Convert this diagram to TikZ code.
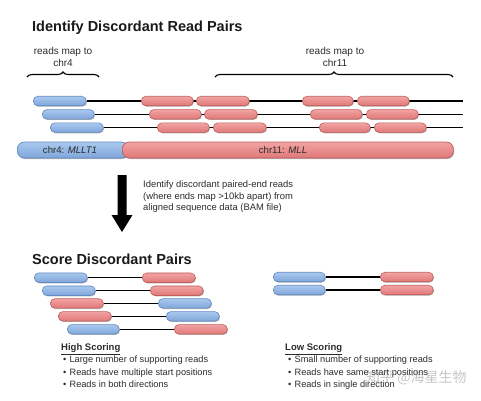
\documentclass[tikz,border=0pt]{standalone}
\usepackage{fontspec}
\setmainfont{Liberation Sans}
\newfontfamily\cjkfont{Noto Sans CJK SC}
\usetikzlibrary{decorations.pathreplacing,shadows,backgrounds}
\definecolor{bluetop}{HTML}{A9C8EE}
\definecolor{bluebot}{HTML}{7FA6DA}
\definecolor{blueedge}{HTML}{6088C2}
\definecolor{redtop}{HTML}{F2A3A3}
\definecolor{redbot}{HTML}{E07878}
\definecolor{rededge}{HTML}{C05C5C}
\definecolor{txt}{HTML}{2B2B2B}
\tikzset{
  rlen/.style={minimum width=#1pt},
  readbase/.style={rectangle, rounded corners=4.6pt, minimum height=9.5pt, inner sep=0pt, anchor=west, line width=0.6pt,
    drop shadow={shadow xshift=0.7pt, shadow yshift=-0.9pt, opacity=0.3, fill=black}},
  bread/.style={readbase, draw=blueedge, top color=bluetop, bottom color=bluebot},
  rread/.style={readbase, draw=rededge, top color=redtop, bottom color=redbot},
  chrbase/.style={rectangle, rounded corners=7pt, minimum height=16pt, inner sep=0pt, anchor=west, line width=0.7pt,
    drop shadow={shadow xshift=0.8pt, shadow yshift=-1pt, opacity=0.3, fill=black}},
  conn/.style={line width=1.4pt, black},
  titletext/.style={font=\fontsize{14.5}{17}\selectfont\bfseries, text=black!90, anchor=base west, inner sep=0pt},
  smalltext/.style={font=\fontsize{10}{12}\selectfont, text=txt, anchor=base, inner sep=0pt},
  desctext/.style={font=\fontsize{9.4}{11.5}\selectfont, text=txt, anchor=base west, inner sep=0pt},
  bullettext/.style={font=\fontsize{9.2}{11}\selectfont, text=txt, anchor=base west, inner sep=0pt},
  headtext/.style={font=\fontsize{9.5}{11}\selectfont\bfseries, text=txt, anchor=base west, inner sep=0pt},
  bracestyle/.style={decorate, decoration={brace, amplitude=5pt}, line width=1.1pt, black},
}
\begin{document}
\begin{tikzpicture}[x=1pt, y=-1pt]
\useasboundingbox (0,0) rectangle (481,400);

% titles
\node[titletext] (t1) at (32,31) {Identify Discordant Read Pairs};
\node[titletext] (t2) at (32,264) {Score Discordant Pairs};

% brace labels
\node[smalltext] (l4a) at (63,54.5) {reads map to};
\node[smalltext] (l4b) at (63,66) {chr4};
\node[smalltext] (l11a) at (335,54.5) {reads map to};
\node[smalltext] (l11b) at (335,66) {chr11};
\coordinate (b4s) at (27,77);
\coordinate (b4e) at (99,77);
\coordinate (b11s) at (215,77);
\coordinate (b11e) at (453,77);
\draw[bracestyle] (b4s) -- (b4e);
\draw[bracestyle] (b11s) -- (b11e);

% top read rows
\node[bread, rlen=53] (a1) at (33,101) {};
\node[rread, rlen=52] (a2) at (141,101) {};
\node[rread, rlen=53] (a3) at (196,101) {};
\node[rread, rlen=51] (a4) at (302,101) {};
\node[rread, rlen=52] (a5) at (357,101) {};
\coordinate (ae) at (463,101);

\node[bread, rlen=52] (b1) at (42,114.3) {};
\node[rread, rlen=52] (b2) at (149,114.3) {};
\node[rread, rlen=53] (b3) at (204,114.3) {};
\node[rread, rlen=52] (b4) at (310,114.3) {};
\node[rread, rlen=52] (b5) at (366,114.3) {};
\coordinate (be) at (463,114.3);

\node[bread, rlen=53] (c1) at (50,127.6) {};
\node[rread, rlen=52] (c2) at (157,127.6) {};
\node[rread, rlen=53] (c3) at (213,127.6) {};
\node[rread, rlen=51] (c4) at (319,127.6) {};
\node[rread, rlen=52] (c5) at (374,127.6) {};
\coordinate (ce) at (463,127.6);

% chromosome bar
\node[chrbase, draw=blueedge, top color=bluetop, bottom color=bluebot, rlen=111] (chr4) at (17,150) {};
\node[chrbase, draw=rededge, top color=redtop, bottom color=redbot, rlen=331] (chr11) at (122,150) {};
\node[font=\fontsize{9.6}{11}\selectfont, text=txt, anchor=base, inner sep=0pt] (chr4t) at (70,153.4) {chr4: \textit{MLLT1}};
\node[font=\fontsize{9.6}{11}\selectfont, text=txt, anchor=base, inner sep=0pt] (chr11t) at (283,153.4) {chr11: \textit{MLL}};

% arrow
\fill[black] (117.5,175) -- (126.5,175) -- (126.5,215) -- (132.5,215) -- (122,232) -- (111.5,215) -- (117.5,215) -- cycle;
\node[desctext] (d1) at (143,187.5) {Identify discordant paired-end reads};
\node[desctext] (d2) at (143,199) {(where ends map >10kb apart) from};
\node[desctext] (d3) at (143,210.5) {aligned sequence data (BAM file)};

% high scoring pairs
\node[bread, rlen=53] (h1a) at (34,277.7) {};
\node[rread, rlen=53] (h1b) at (142,277.7) {};
\node[bread, rlen=53] (h2a) at (42,290.7) {};
\node[rread, rlen=53] (h2b) at (150,290.7) {};
\node[rread, rlen=53] (h3a) at (50,303.4) {};
\node[bread, rlen=53] (h3b) at (158,303.4) {};
\node[rread, rlen=53] (h4a) at (58,316.3) {};
\node[bread, rlen=53] (h4b) at (166,316.3) {};
\node[bread, rlen=52] (h5a) at (67,329.3) {};
\node[rread, rlen=53] (h5b) at (174,329.3) {};

% low scoring pairs
\node[bread, rlen=52] (l1a) at (273,277) {};
\node[rread, rlen=53] (l1b) at (380,277) {};
\node[bread, rlen=52] (l2a) at (273,290) {};
\node[rread, rlen=53] (l2b) at (380,290) {};

% connectors behind reads
\begin{scope}[on background layer]
\draw[conn] (a1.east) -- (ae);
\draw[conn] (b1.east) -- (be);
\draw[conn] (c1.east) -- (ce);
\draw[conn] (h1a.east) -- (h1b.west);
\draw[conn] (h2a.east) -- (h2b.west);
\draw[conn] (h3a.east) -- (h3b.west);
\draw[conn] (h4a.east) -- (h4b.west);
\draw[conn] (h5a.east) -- (h5b.west);
\draw[conn] (l1a.east) -- (l1b.west);
\draw[conn] (l2a.east) -- (l2b.west);
\end{scope}

% high scoring text
\node[headtext] (hs) at (61,350.3) {\underline{High Scoring}};
\node[bullettext] (hs1) at (63,362.8) {•\hspace{3.2pt}Large number of supporting reads};
\node[bullettext] (hs2) at (63,375.3) {•\hspace{3.2pt}Reads have multiple start positions};
\node[bullettext] (hs3) at (63,387.8) {•\hspace{3.2pt}Reads in both directions};

% low scoring text
\node[headtext] (ls) at (285,350.3) {\underline{Low Scoring}};
\node[bullettext] (ls1) at (288,362.8) {•\hspace{3.2pt}Small number of supporting reads};
\node[bullettext] (ls2) at (288,375.3) {•\hspace{3.2pt}Reads have same start positions};
\node[bullettext] (ls3) at (288,387.8) {•\hspace{3.2pt}Reads in single direction};

% watermark
\node[font=\fontsize{14}{16}\selectfont\cjkfont, text=gray, opacity=0.45, anchor=base west, inner sep=0pt] (wm) at (366,382) {知乎 @海星生物};
\end{tikzpicture}
\end{document}
